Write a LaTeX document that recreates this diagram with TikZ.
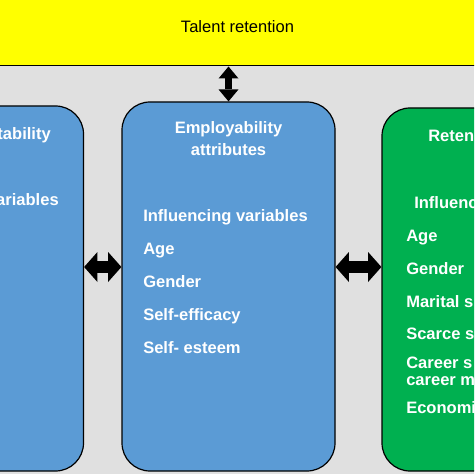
\documentclass[tikz,border=0pt]{standalone}
\usepackage{fontspec}
\setmainfont{Liberation Sans}
\usetikzlibrary{arrows.meta}

\begin{document}
\begin{tikzpicture}[x=0.75pt,y=0.75pt,yscale=-1,xscale=1,
  panel/.style={draw=black, line width=0.9pt, rounded corners=21pt, minimum width=159.75pt, inner sep=0pt},
  item/.style={text=white, font=\fontsize{12.4pt}{15pt}\selectfont\bfseries, inner sep=0pt},
  widearr/.style={line width=9pt, {Triangle[length=10pt,width=22.5pt,line width=0pt]}-{Triangle[length=10pt,width=22.5pt,line width=0pt]}},
  tallarr/.style={line width=5.25pt, {Triangle[length=9pt,width=15pt,line width=0pt]}-{Triangle[length=9pt,width=15pt,line width=0pt]}}]
\useasboundingbox (0,0) rectangle (474,474);
\clip (0,0) rectangle (474,474);

%Background
\fill [color={rgb, 255:red, 224; green, 224; blue, 224 }] (0,0) rectangle (474,474);

%Top band
\node [draw=black, line width=0.75pt, fill={rgb, 255:red, 255; green, 255; blue, 0 }, minimum width=370pt, minimum height=49.5pt, inner sep=0pt] (talent) at (237,33) {};
\draw (237.5,33) node [anchor=base, inner sep=0pt, font=\fontsize{12.4pt}{15pt}\selectfont] (talentTxt) {Talent retention};

%Panels
\node [panel, fill={rgb, 255:red, 91; green, 155; blue, 213 }, minimum height=273.75pt] (adapt) at (-23,288.5) {};
\node [panel, fill={rgb, 255:red, 91; green, 155; blue, 213 }, minimum height=276.75pt] (employ) at (228.5,286.5) {};
\node [panel, fill={rgb, 255:red, 0; green, 176; blue, 80 }, minimum height=272.25pt] (retain) at (488.5,289.5) {};

%Arrows
\coordinate (armY) at (0,267);
\draw [widearr] (adapt.east |- armY) -- (employ.west |- armY);
\draw [widearr] (employ.east |- armY) -- (retain.west |- armY);
\draw [tallarr] (talent.south -| employ.north) -- (employ.north);

% Left panel text
\draw (51,139) node [item, anchor=base east] (aHead) {tability};
\draw (59,205) node [item, anchor=base east] (aInf) {ariables};

% Middle panel text
\draw (228.5,134) node [item, anchor=base] (eHeadA) {Employability};
\draw (228.5,156) node [item, anchor=base] (eHeadB) {attributes};
\draw (143,221) node [item, anchor=base west] (eInf) {Influencing variables};
\draw (143,254) node [item, anchor=base west] (eAge) {Age};
\draw (143,287) node [item, anchor=base west] (eGen) {Gender};
\draw (143,320) node [item, anchor=base west] (eEff) {Self-efficacy};
\draw (143,353) node [item, anchor=base west] (eEst) {Self- esteem};

% Right panel text
\draw (428,142) node [item, anchor=base west] (rHead) {Reten};
\draw (414,208) node [item, anchor=base west] (rInf) {Influenc};
\draw (406,241) node [item, anchor=base west] (rAge) {Age};
\draw (406,274) node [item, anchor=base west] (rGen) {Gender};
\draw (406,307) node [item, anchor=base west] (rMar) {Marital s};
\draw (406,339) node [item, anchor=base west] (rSca) {Scarce s};
\draw (406,368) node [item, anchor=base west] (rCarA) {Career s};
\draw (406,385) node [item, anchor=base west] (rCarB) {career m};
\draw (406,413) node [item, anchor=base west] (rEco) {Economi};

\end{tikzpicture}
\end{document}
